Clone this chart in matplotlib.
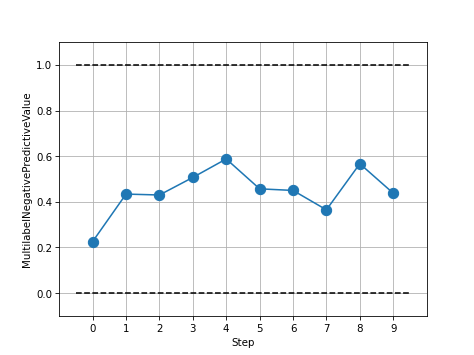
import matplotlib
matplotlib.use("Agg")
import matplotlib.pyplot as plt

# values
steps = [0, 1, 2, 3, 4, 5, 6, 7, 8, 9]
values = [0.226, 0.434, 0.430, 0.507, 0.588, 0.457, 0.450, 0.365, 0.567, 0.438]
lower_bound = 0.0
upper_bound = 1.0

fig = plt.figure(figsize=(6.4, 4.8), dpi=474 / 6.4)
ax = fig.add_subplot(111)

ax.hlines([lower_bound, upper_bound], steps[0] - 0.5, steps[-1] + 0.5,
          colors="black", linestyles="dashed")
ax.plot(steps, values, marker="o", markersize=10, color="#1f77b4")

ax.set_ylim(-0.1, 1.1)
ax.set_xticks(steps)
ax.set_xlabel("Step")
ax.set_ylabel("MultilabelNegativePredictiveValue")
ax.grid(True)

fig.savefig("out.png")
